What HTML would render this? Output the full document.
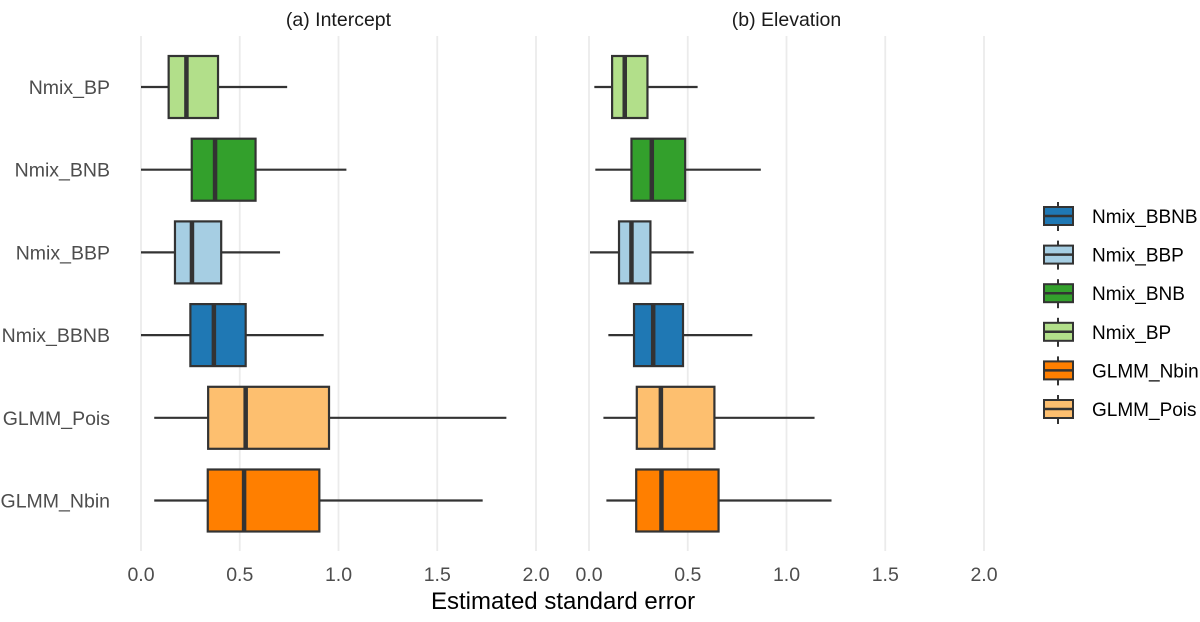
<!DOCTYPE html>
<html><head><meta charset="utf-8"><style>
body{margin:0;background:#fff;}
svg text{font-family:"Liberation Sans",Arial,sans-serif;}
</style></head><body>
<svg id="chart" width="1200" height="617" xmlns="http://www.w3.org/2000/svg"></svg>
<script>
const categories = ["Nmix_BP","Nmix_BNB","Nmix_BBP","Nmix_BBNB","GLMM_Pois","GLMM_Nbin"];
const fills = {"Nmix_BP":"#b2df8a","Nmix_BNB":"#33a02c","Nmix_BBP":"#a6cee3","Nmix_BBNB":"#1f78b4","GLMM_Pois":"#fdbf6f","GLMM_Nbin":"#ff7f00"};
// [lower whisker, q1, median, q3, upper whisker]
const interceptStats = [
  [0,0.14,0.23,0.39,0.74],
  [0,0.257,0.375,0.58,1.04],
  [0,0.172,0.258,0.406,0.704],
  [0,0.25,0.369,0.53,0.925],
  [0.067,0.34,0.53,0.952,1.85],
  [0.067,0.338,0.522,0.903,1.73]
];
const elevationStats = [
  [0.027,0.117,0.181,0.296,0.55],
  [0.032,0.215,0.318,0.487,0.87],
  [0.005,0.152,0.215,0.311,0.53],
  [0.098,0.228,0.325,0.476,0.827],
  [0.073,0.242,0.364,0.635,1.142],
  [0.088,0.239,0.367,0.656,1.228]
];
const tickValues = [0,0.5,1,1.5,2];
const tickLabels = ["0.0","0.5","1.0","1.5","2.0"];
const legendOrder = ["Nmix_BBNB","Nmix_BBP","Nmix_BNB","Nmix_BP","GLMM_Nbin","GLMM_Pois"];

const NS="http://www.w3.org/2000/svg";
const svg=document.getElementById('chart');
function mk(tag,attrs,parent){const e=document.createElementNS(NS,tag);for(const k in attrs)e.setAttribute(k,attrs[k]);(parent||svg).appendChild(e);return e;}
function yPos(i){return 87+i*82.7;}
const panels=[{x0:141,title:"(a) Intercept",stats:interceptStats,name:"intercept"},{x0:589,title:"(b) Elevation",stats:elevationStats,name:"elevation"}];
const scale=197.5;
panels.forEach(p=>{
  const xs=v=>p.x0+v*scale;
  const g=mk('g',{});
  
  
  tickValues.forEach((v,i)=>{
    const l=mk('line',{x1:xs(v),x2:xs(v),y1:36,y2:551,stroke:'#ebebeb','stroke-width':1.8},g);
    
    
    const t=mk('text',{x:xs(v),y:581,'text-anchor':'middle','font-size':19.5,fill:'#4d4d4d'},g);
    t.textContent=tickLabels[i];
    
    
  });
  const tt=mk('text',{x:(xs(0)+xs(2))/2,y:26,'text-anchor':'middle','font-size':19.5,fill:'#1a1a1a'},g);
  tt.textContent=p.title;
  
  
  p.stats.forEach((s,i)=>{
    const y=yPos(i);
    const bg=mk('g',{},g);
    
    
    mk('line',{x1:xs(s[0]),x2:xs(s[1]),y1:y,y2:y,stroke:'#333','stroke-width':2.2},bg);
    mk('line',{x1:xs(s[3]),x2:xs(s[4]),y1:y,y2:y,stroke:'#333','stroke-width':2.2},bg);
    mk('rect',{x:xs(s[1]),y:y-31,width:xs(s[3])-xs(s[1]),height:62,fill:fills[categories[i]],stroke:'#333','stroke-width':2.2},bg);
    mk('line',{x1:xs(s[2]),x2:xs(s[2]),y1:y-31,y2:y+31,stroke:'#333','stroke-width':4.5},bg);
  });
});
categories.forEach((c,i)=>{
  const t=mk('text',{x:110,y:yPos(i)+7,'text-anchor':'end','font-size':19.5,fill:'#4d4d4d'});
  t.textContent=c;
  
  
});
const xt=mk('text',{x:563,y:609,'text-anchor':'middle','font-size':24,fill:'#000'});
xt.textContent="Estimated standard error";


legendOrder.forEach((c,i)=>{
  const cy=216+i*38.6;
  const g=mk('g',{});
  
  
  mk('line',{x1:1058,x2:1058,y1:cy-14,y2:cy+15,stroke:'#333','stroke-width':2},g);
  mk('rect',{x:1044,y:cy-9,width:29,height:18,fill:fills[c],stroke:'#333','stroke-width':2},g);
  mk('line',{x1:1044,x2:1073,y1:cy,y2:cy,stroke:'#333','stroke-width':2.5},g);
  const t=mk('text',{x:1092,y:cy+7,'font-size':19,fill:'#000'},g);
  t.textContent=c;
});
</script>
</body></html>
